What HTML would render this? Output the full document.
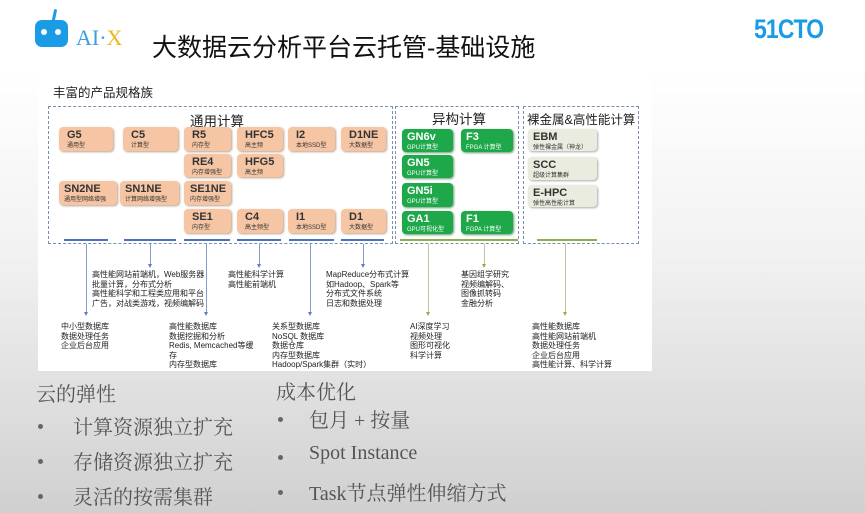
<!DOCTYPE html>
<html><head><meta charset="utf-8"><style>
*{margin:0;padding:0;box-sizing:border-box}
body{width:865px;height:513px;position:relative;overflow:hidden;background:linear-gradient(180deg,#fff 0px,#fff 70px,#f2f2f2 250px,#d0d0d0 513px);font-family:"Liberation Sans","Noto Sans CJK SC",sans-serif}
.a{position:absolute;white-space:nowrap}
.img{position:absolute;left:38px;top:73px;width:614px;height:298px;background:#fff}
.dash{position:absolute;border:1.3px dashed #7a8fb0}
.b{position:absolute;border-radius:4px;padding:2px 0 0 8px;line-height:1}
.o{background:#f6c6a4;box-shadow:1px 1px 2px #b9a08c}
.g{background:#1ea84a;color:#fff;box-shadow:1px 1px 2px #6a9a72}
.s{background:#e9ecdf;box-shadow:1px 1px 2px #aaa}
.b b{display:block;font-size:11px;font-weight:bold;color:inherit;margin-top:1px}
.b i{display:block;font-style:normal;font-size:6px;margin-top:2px}
.o b,.s b{color:#333}.o i,.s i{color:#333}
.vl{position:absolute;width:1px}
.ah{position:absolute;width:0;height:0;border-left:2.5px solid transparent;border-right:2.5px solid transparent}
.t{position:absolute;font-size:8px;line-height:9.6px;color:#222;white-space:nowrap}
.bar{position:absolute;height:2px}
.bt{position:absolute;font-family:"Liberation Serif","Noto Serif CJK SC",serif;font-size:20px;color:#555;white-space:nowrap}
.bu{position:absolute;width:5px;height:5px;border-radius:50%;background:#666}
</style></head><body>
<div class="a" style="left:53px;top:9px;width:3px;height:12px;background:#1a9be6;border-radius:2px;transform:rotate(12deg)"></div>
<div class="a" style="left:35px;top:20px;width:33px;height:27px;background:#1a9be6;border-radius:7px"></div>
<div class="a" style="left:41px;top:29px;width:6px;height:6px;background:#fff;border-radius:50%"></div>
<div class="a" style="left:55px;top:29px;width:6px;height:6px;background:#fff;border-radius:50%"></div>
<div class="a" style="left:76px;top:25px;font-family:'Liberation Serif',serif;font-size:22px;color:#3a9ee0">AI·<span style="color:#f2b521">X</span></div>
<div class="a" style="left:152px;top:28px;font-size:25px;color:#111">大数据云分析平台云托管-基础设施</div>
<div class="a" style="left:754px;top:14px;font-size:27px;font-weight:bold;color:#1a9be6;letter-spacing:-1px;transform:scaleX(0.85);transform-origin:left">51CTO</div>

<div class="img"></div>
<div class="a" style="left:53px;top:82px;font-size:12.5px;color:#222">丰富的产品规格族</div>
<div class="dash" style="left:48px;top:106px;width:345px;height:138px"></div>
<div class="dash" style="left:395px;top:106px;width:124px;height:138px"></div>
<div class="dash" style="left:523px;top:106px;width:116px;height:138px"></div>
<div class="a" style="left:190px;top:110px;font-size:13.5px;color:#222">通用计算</div>
<div class="a" style="left:432px;top:108px;font-size:13.5px;color:#222">异构计算</div>
<div class="a" style="left:527px;top:109px;font-size:12.5px;color:#222">裸金属&amp;高性能计算</div>

<div class="b o" style="left:59px;top:127px;width:54px;height:24px"><b>G5</b><i>通用型</i></div>
<div class="b o" style="left:123px;top:127px;width:55px;height:24px"><b>C5</b><i>计算型</i></div>
<div class="b o" style="left:184px;top:127px;width:47px;height:24px"><b>R5</b><i>内存型</i></div>
<div class="b o" style="left:237px;top:127px;width:46px;height:24px"><b>HFC5</b><i>高主频</i></div>
<div class="b o" style="left:288px;top:127px;width:47px;height:24px"><b>I2</b><i>本地SSD型</i></div>
<div class="b o" style="left:341px;top:127px;width:45px;height:24px"><b>D1NE</b><i>大数据型</i></div>
<div class="b o" style="left:184px;top:154px;width:47px;height:23px"><b>RE4</b><i>内存增强型</i></div>
<div class="b o" style="left:237px;top:154px;width:46px;height:23px"><b>HFG5</b><i>高主频</i></div>
<div class="b o" style="left:59px;top:181px;width:58px;height:24px;padding-left:5px"><b>SN2NE</b><i>通用型网络增强</i></div>
<div class="b o" style="left:120px;top:181px;width:59px;height:24px;padding-left:5px"><b>SN1NE</b><i>计算网络增强型</i></div>
<div class="b o" style="left:184px;top:181px;width:47px;height:24px;padding-left:6px"><b>SE1NE</b><i>内存增强型</i></div>
<div class="b o" style="left:184px;top:209px;width:47px;height:24px"><b>SE1</b><i>内存型</i></div>
<div class="b o" style="left:237px;top:209px;width:46px;height:24px"><b>C4</b><i>高主频型</i></div>
<div class="b o" style="left:288px;top:209px;width:47px;height:24px"><b>I1</b><i>本地SSD型</i></div>
<div class="b o" style="left:341px;top:209px;width:45px;height:24px"><b>D1</b><i>大数据型</i></div>
<div class="b g" style="left:402px;top:129px;width:51px;height:23px;padding-left:5px"><b>GN6v</b><i>GPU计算型</i></div>
<div class="b g" style="left:461px;top:129px;width:52px;height:23px;padding-left:5px"><b>F3</b><i>FPGA 计算型</i></div>
<div class="b g" style="left:402px;top:155px;width:51px;height:23px;padding-left:5px"><b>GN5</b><i>GPU计算型</i></div>
<div class="b g" style="left:402px;top:183px;width:51px;height:24px;padding-left:5px"><b>GN5i</b><i>GPU计算型</i></div>
<div class="b g" style="left:402px;top:211px;width:51px;height:23px;padding-left:5px"><b>GA1</b><i>GPU可视化型</i></div>
<div class="b g" style="left:461px;top:211px;width:52px;height:23px;padding-left:5px"><b>F1</b><i>FGPA 计算型</i></div>
<div class="b s" style="left:528px;top:129px;width:69px;height:22px;padding-left:5px"><b>EBM</b><i>弹性裸金属（神龙）</i></div>
<div class="b s" style="left:528px;top:157px;width:69px;height:23px;padding-left:5px"><b>SCC</b><i>超级计算集群</i></div>
<div class="b s" style="left:528px;top:185px;width:69px;height:22px;padding-left:5px"><b>E-HPC</b><i>弹性高性能计算</i></div>

<div class="bar" style="left:64px;top:239px;width:44px;background:#4a72c0"></div>
<div class="bar" style="left:124px;top:239px;width:52px;background:#4a72c0"></div>
<div class="bar" style="left:184px;top:239px;width:46px;background:#4a72c0"></div>
<div class="bar" style="left:237px;top:239px;width:44px;background:#4a72c0"></div>
<div class="bar" style="left:289px;top:239px;width:45px;background:#4a72c0"></div>
<div class="bar" style="left:341px;top:239px;width:43px;background:#4a72c0"></div>
<div class="bar" style="left:400px;top:239px;width:118px;background:#8cb04e"></div>
<div class="bar" style="left:537px;top:239px;width:60px;background:#8cb04e"></div>

<div class="vl" style="left:86px;top:244px;height:70px;background:#7f9fd0"></div><div class="ah" style="left:84px;top:312px;border-top:4px solid #5a7fc0"></div>
<div class="vl" style="left:150px;top:244px;height:22px;background:#7f9fd0"></div><div class="ah" style="left:148px;top:264px;border-top:4px solid #5a7fc0"></div>
<div class="vl" style="left:206px;top:244px;height:70px;background:#7f9fd0"></div><div class="ah" style="left:204px;top:312px;border-top:4px solid #5a7fc0"></div>
<div class="vl" style="left:259px;top:244px;height:22px;background:#7f9fd0"></div><div class="ah" style="left:257px;top:264px;border-top:4px solid #5a7fc0"></div>
<div class="vl" style="left:310px;top:244px;height:70px;background:#7f9fd0"></div><div class="ah" style="left:308px;top:312px;border-top:4px solid #5a7fc0"></div>
<div class="vl" style="left:363px;top:244px;height:22px;background:#7f9fd0"></div><div class="ah" style="left:361px;top:264px;border-top:4px solid #5a7fc0"></div>
<div class="vl" style="left:428px;top:244px;height:70px;background:#b5c99a"></div><div class="ah" style="left:426px;top:312px;border-top:4px solid #8cb04e"></div>
<div class="vl" style="left:484px;top:244px;height:22px;background:#b5c99a"></div><div class="ah" style="left:482px;top:264px;border-top:4px solid #8cb04e"></div>
<div class="vl" style="left:565px;top:244px;height:70px;background:#b5c99a"></div><div class="ah" style="left:563px;top:312px;border-top:4px solid #8cb04e"></div>

<div class="t" style="left:92px;top:270px">高性能网站前端机，Web服务器<br>批量计算，分布式分析<br>高性能科学和工程类应用和平台<br>广告，对战类游戏，视频编解码</div>
<div class="t" style="left:228px;top:270px">高性能科学计算<br>高性能前端机</div>
<div class="t" style="left:326px;top:270px">MapReduce分布式计算<br>如Hadoop、Spark等<br>分布式文件系统<br>日志和数据处理</div>
<div class="t" style="left:461px;top:270px">基因组学研究<br>视频编解码、<br>图像抓转码<br>金融分析</div>
<div class="t" style="left:61px;top:322px">中小型数据库<br>数据处理任务<br>企业后台应用</div>
<div class="t" style="left:169px;top:322px">高性能数据库<br>数据挖掘和分析<br>Redis, Memcached等缓<br>存<br>内存型数据库</div>
<div class="t" style="left:272px;top:322px">关系型数据库<br>NoSQL 数据库<br>数据仓库<br>内存型数据库<br>Hadoop/Spark集群（实时）</div>
<div class="t" style="left:410px;top:322px">AI深度学习<br>视频处理<br>图形可视化<br>科学计算</div>
<div class="t" style="left:532px;top:322px">高性能数据库<br>高性能网站前端机<br>数据处理任务<br>企业后台应用<br>高性能计算、科学计算</div>

<div class="bt" style="left:36px;top:378px">云的弹性</div>
<div class="bu" style="left:38px;top:424px"></div>
<div class="bt" style="left:73px;top:411px">计算资源独立扩充</div>
<div class="bu" style="left:38px;top:459px"></div>
<div class="bt" style="left:73px;top:446px">存储资源独立扩充</div>
<div class="bu" style="left:38px;top:494px"></div>
<div class="bt" style="left:73px;top:481px">灵活的按需集群</div>
<div class="bt" style="left:276px;top:376px">成本优化</div>
<div class="bu" style="left:278px;top:417px"></div>
<div class="bt" style="left:309px;top:404px">包月 + 按量</div>
<div class="bu" style="left:278px;top:455px"></div>
<div class="bt" style="left:309px;top:442px">Spot Instance</div>
<div class="bu" style="left:278px;top:490px"></div>
<div class="bt" style="left:309px;top:477px">Task节点弹性伸缩方式</div>
</body></html>
